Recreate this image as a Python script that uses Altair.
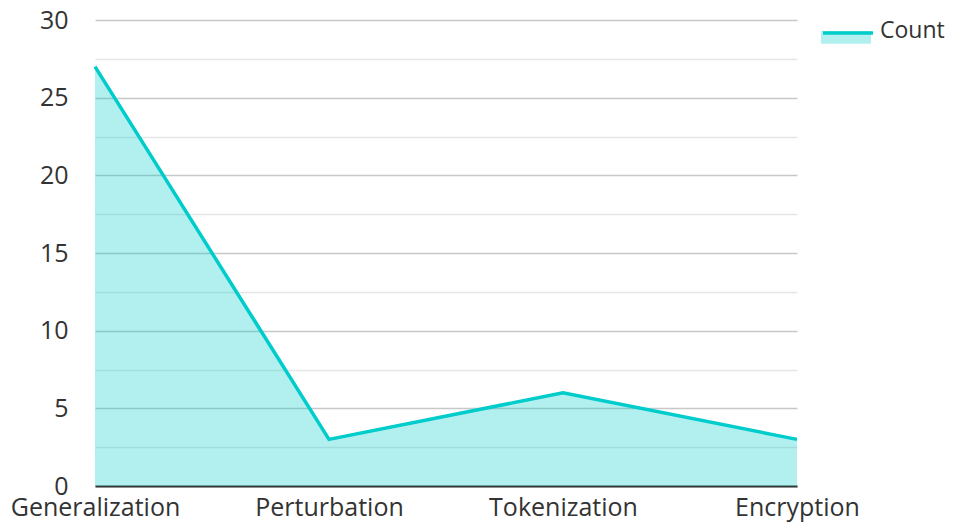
import altair as alt
import pandas as pd

categories = ["Generalization", "Perturbation", "Tokenization", "Encryption"]
counts = [27, 3, 6, 3]
series_name = "Count"
y_ticks = [0, 2.5, 5, 7.5, 10, 12.5, 15, 17.5, 20, 22.5, 25, 27.5, 30]

df = pd.DataFrame({
    "category": categories,
    "value": counts,
    "s1": [series_name] * len(categories),
    "s2": [series_name] * len(categories),
})

FONT = "Open Sans"
FS = 25
LEG_FS = 23
CYAN = "#00cccc"
TEXT = "#333333"

fill_path = "M-1,0.02 L1,0.02 L1,0.53 L-1,0.53 Z"
line_path = "M-1,0.02 L1,0.02"

x_enc = alt.X(
    "category:N",
    sort=None,
    scale=alt.Scale(padding=0),
    axis=alt.Axis(
        title=None, labelAngle=0, ticks=False, grid=False,
        domain=True, domainColor=TEXT, domainWidth=2,
        labelFont=FONT, labelFontSize=FS, labelColor=TEXT, labelPadding=9,
    ),
)
y_enc = alt.Y(
    "value:Q",
    scale=alt.Scale(domain=[0, 30], nice=False),
    axis=alt.Axis(
        title=None, values=y_ticks, ticks=False, domain=False,
        labelExpr="datum.value % 5 === 0 ? datum.label : ''",
        gridColor={"condition": {"test": "datum.value % 5 === 0", "value": "#c8c8c8"}, "value": "#e6e6e6"},
        gridWidth=1.3,
        labelFont=FONT, labelFontSize=FS, labelColor=TEXT, labelPadding=27,
    ),
)

base = alt.Chart(df)

area = base.mark_area(opacity=0.3).encode(
    x=x_enc,
    y=y_enc,
    fill=alt.Fill(
        "s1:N",
        scale=alt.Scale(range=[CYAN]),
        legend=alt.Legend(
            title=None, orient="none", legendX=726, legendY=-14.5, padding=0,
            symbolType=fill_path, symbolSize=2500, symbolStrokeWidth=0, symbolOpacity=0.3,
            labelFont=FONT, labelFontSize=LEG_FS, labelColor=TEXT, labelOffset=9,
        ),
    ),
)

line = base.mark_line(strokeWidth=3.5).encode(
    x=x_enc,
    y=y_enc,
    stroke=alt.Stroke(
        "s2:N",
        scale=alt.Scale(range=[CYAN]),
        legend=alt.Legend(
            title=None, orient="none", legendX=726, legendY=-14.5, padding=0,
            symbolType=line_path, symbolSize=2500, symbolStrokeWidth=3.5,
            labelFont=FONT, labelFontSize=LEG_FS, labelColor=TEXT, labelOffset=9, labelOpacity=0,
        ),
    ),
)

chart = (
    alt.layer(area, line)
    .properties(
        width=702, height=466,
        autosize=alt.AutoSizeParams(type="none"),
        padding={"left": 87, "top": 12, "right": 148, "bottom": 37},
    )
    .configure_view(stroke=None)
)

chart.save("out.html", embed_options={"renderer": "svg", "actions": False})
